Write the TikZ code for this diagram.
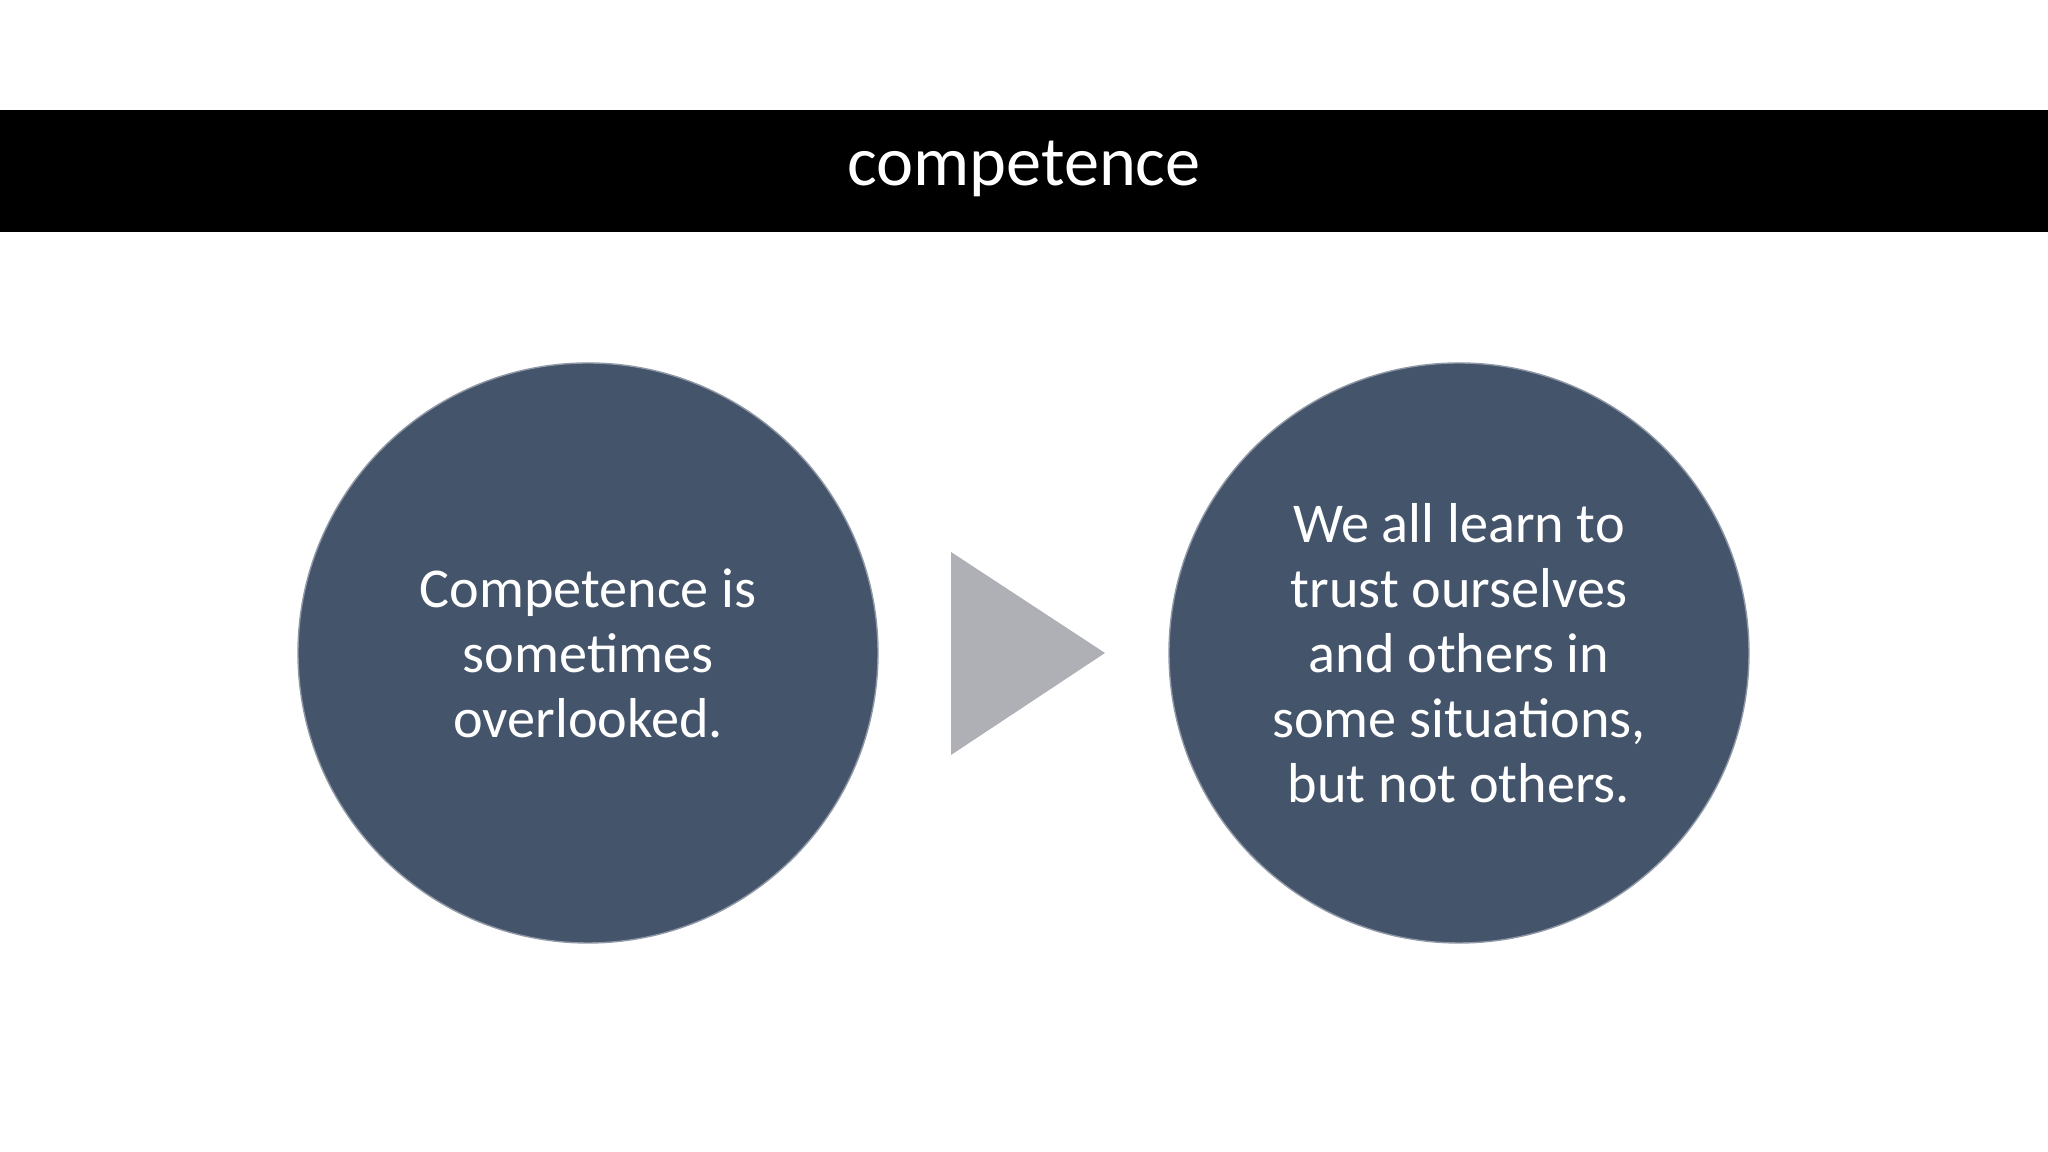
\documentclass[tikz,border=0pt]{standalone}
\usepackage{fontspec}
\setmainfont{Carlito}
\definecolor{slate}{HTML}{44546A}
\definecolor{arrowgrey}{HTML}{AEB0B5}
\begin{document}
\begin{tikzpicture}
          \tikzset{bubble/.style={circle,fill=slate,draw=slate!60!white,minimum size=5.8cm,
            text=white,align=center,font=\fontsize{16}{18.5}\selectfont}}
          \useasboundingbox (0,0) rectangle (20.48,11.52);
          \fill[white] (0,0) rectangle (20.48,11.52);
          % title bar
          \fill[black] (0,9.20) rectangle (20.48,10.42);
          \node[text=white,font=\fontsize{20}{24}\selectfont] (title) at (10.24,9.83) {competence};
          % circles
          \node[bubble] (left) at (5.88,4.99) {Competence is\\sometimes\\overlooked.};
          \node[bubble] (right) at (14.59,4.99) {We all learn to\\trust ourselves\\and others in\\some situations,\\but not others.};
          % arrow
          \fill[arrowgrey] (9.51,6.00) -- (11.05,4.99) -- (9.51,3.97) -- cycle;
      \end{tikzpicture}
\end{document}
